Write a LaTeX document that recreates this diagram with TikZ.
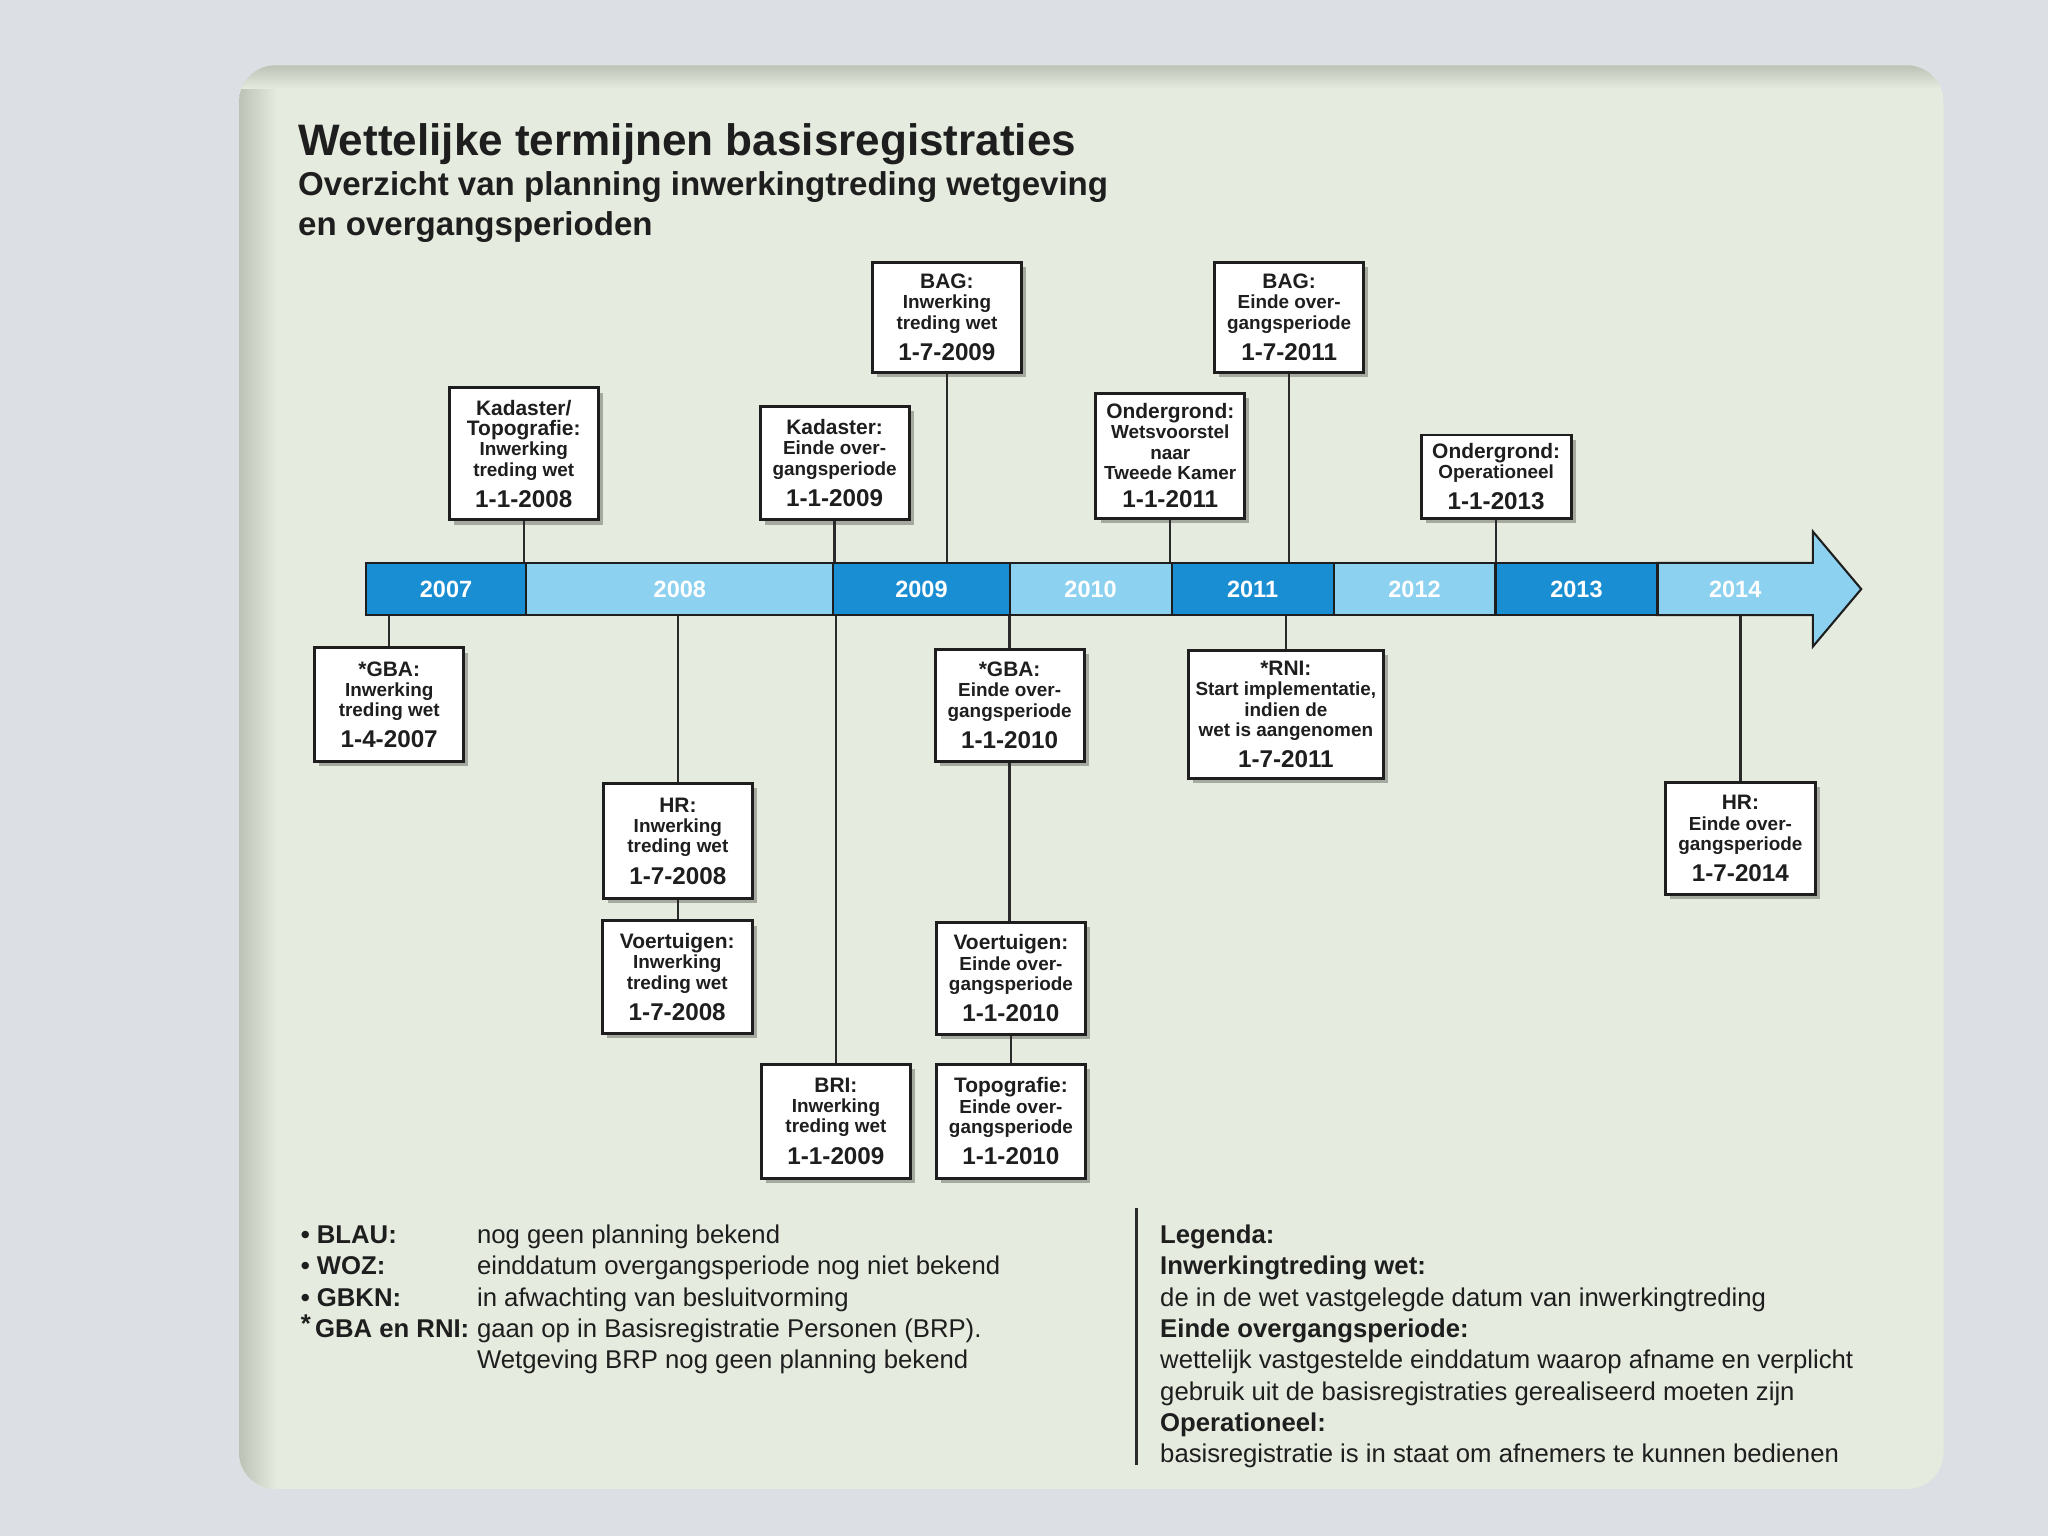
\documentclass[tikz,border=0pt]{standalone}
\usepackage{fontspec}
\setmainfont{Liberation Sans}
\usetikzlibrary{shadows}
\definecolor{bgc}{HTML}{DCDFE3}
\definecolor{panel}{HTML}{E5EBDE}
\definecolor{panelshade}{HTML}{BCC2B5}
\definecolor{dblue}{HTML}{1A8ED3}
\definecolor{lblue}{HTML}{8DD1F0}
\definecolor{ink}{HTML}{1E1E1E}
\definecolor{lineclr}{HTML}{2A2A2A}
\newcommand{\hdr}[1]{{\fontsize{11.4}{11}\selectfont #1}}
\newcommand{\dte}[1]{{\fontsize{13.2}{11}\selectfont #1}}
\newcommand{\tlbox}[6]{\node[tbox, minimum width={(#4-#2)*0.25mm}, minimum height={(#5-#3)*0.25mm}] (#1) at ({(#2+#4)/2},{(#3+#5)/2}) {#6};}
\tikzset{
 tbox/.style={draw=ink, line width=0.55mm, fill=white, align=center, inner sep=0pt, text=ink,
   font=\fontsize{10.3}{11}\selectfont\bfseries,
   drop shadow={shadow xshift=0.9mm, shadow yshift=-0.9mm, opacity=0.28, fill=black}},
 seg/.style={draw=ink, line width=0.4mm, minimum height=10mm, inner sep=0pt, text=white,
   font=\fontsize{12.8}{14}\selectfont\bfseries},
 conn/.style={draw=lineclr, line width=0.45mm},
 note/.style={anchor=base west, inner sep=0pt, text=ink, font=\fontsize{14}{16}\selectfont},
 noteb/.style={note, font=\fontsize{14}{16}\selectfont\bfseries},
}
\begin{document}
\begin{tikzpicture}[x=0.25mm,y=-0.25mm]
\useasboundingbox (0,0) rectangle (1568,1176);
\fill[bgc] (0,0) rectangle (1568,1176);
% panel
\begin{scope}
\clip[rounded corners=7mm] (183,50) rectangle (1488,1140);
\fill[panel] (183,50) rectangle (1488,1140);
\shade[left color=panelshade, right color=panel] (183,50) rectangle (212,1140);
\shade[top color=panelshade, bottom color=panel] (183,50) rectangle (1488,68);
\end{scope}
% title
\node[anchor=base west, inner sep=0pt, text=ink, font=\fontsize{24}{28}\selectfont\bfseries] (title) at (228,119) {Wettelijke termijnen basisregistraties};
\node[anchor=base west, inner sep=0pt, text=ink, font=\fontsize{18}{21}\selectfont\bfseries] (sub1) at (228,150) {Overzicht van planning inwerkingtreding wetgeving};
\node[anchor=base west, inner sep=0pt, text=ink, font=\fontsize{18}{21}\selectfont\bfseries] (sub2) at (228,180) {en overgangsperioden};
% timeline bar
\filldraw[fill=lblue, draw=ink, line width=0.4mm] (1269,431) -- (1388,431) -- (1388,407) -- (1425,451) -- (1388,495) -- (1388,471) -- (1269,471) -- cycle;
\node[seg, fill=dblue, minimum width={123*0.25mm}] (y2007) at (341.5,451) {2007};
\node[seg, fill=lblue, minimum width={235*0.25mm}] (y2008) at (520.5,451) {2008};
\node[seg, fill=dblue, minimum width={135*0.25mm}] (y2009) at (705.5,451) {2009};
\node[seg, fill=lblue, minimum width={124*0.25mm}] (y2010) at (835,451) {2010};
\node[seg, fill=dblue, minimum width={124*0.25mm}] (y2011) at (959,451) {2011};
\node[seg, fill=lblue, minimum width={124*0.25mm}] (y2012) at (1083,451) {2012};
\node[seg, fill=dblue, minimum width={124*0.25mm}] (y2013) at (1207,451) {2013};
\node[seg, draw=none, minimum width={119*0.25mm}] (y2014) at (1328.5,451) {2014};
% boxes above
\tlbox{kt}{344}{297}{458}{398}{\hdr{Kadaster/}\\\hdr{Topografie:}\\Inwerking\\treding wet\\[4.6pt]\dte{1-1-2008}}
\tlbox{kd}{582}{311}{696}{398}{\hdr{Kadaster:}\\Einde over-\\gangsperiode\\[4.6pt]\dte{1-1-2009}}
\tlbox{bag1}{668}{201}{782}{285}{\hdr{BAG:}\\Inwerking\\treding wet\\[4.6pt]\dte{1-7-2009}}
\tlbox{og1}{839}{301}{953}{397}{\hdr{Ondergrond:}\\Wetsvoorstel\\naar\\Tweede Kamer\\[4.6pt]\dte{1-1-2011}}
\tlbox{bag2}{930}{201}{1044}{285}{\hdr{BAG:}\\Einde over-\\gangsperiode\\[4.6pt]\dte{1-7-2011}}
\tlbox{og2}{1088}{333}{1203}{397}{\hdr{Ondergrond:}\\Operationeel\\[4.6pt]\dte{1-1-2013}}
% boxes below
\tlbox{gba1}{241}{496}{355}{583}{\hdr{*GBA:}\\Inwerking\\treding wet\\[4.6pt]\dte{1-4-2007}}
\tlbox{hr1}{462}{600}{576}{688}{\hdr{HR:}\\Inwerking\\treding wet\\[4.6pt]\dte{1-7-2008}}
\tlbox{vt1}{461}{705}{576}{791}{\hdr{Voertuigen:}\\Inwerking\\treding wet\\[4.6pt]\dte{1-7-2008}}
\tlbox{bri}{583}{815}{697}{902}{\hdr{BRI:}\\Inwerking\\treding wet\\[4.6pt]\dte{1-1-2009}}
\tlbox{gba2}{716}{497}{830}{583}{\hdr{*GBA:}\\Einde over-\\gangsperiode\\[4.6pt]\dte{1-1-2010}}
\tlbox{vt2}{717}{706}{831}{792}{\hdr{Voertuigen:}\\Einde over-\\gangsperiode\\[4.6pt]\dte{1-1-2010}}
\tlbox{topo}{717}{815}{831}{902}{\hdr{Topografie:}\\Einde over-\\gangsperiode\\[4.6pt]\dte{1-1-2010}}
\tlbox{rni}{910}{498}{1059}{596}{\hdr{*RNI:}\\Start implementatie,\\indien de\\wet is aangenomen\\[4.6pt]\dte{1-7-2011}}
\tlbox{hr2}{1275}{599}{1390}{685}{\hdr{HR:}\\Einde over-\\gangsperiode\\[4.6pt]\dte{1-7-2014}}
% connectors
\draw[conn] (kt.south) -- (kt.south |- y2008.north);
\draw[conn] (kd.south) -- (kd.south |- y2009.north);
\draw[conn] (bag1.south) -- (bag1.south |- y2009.north);
\draw[conn] (og1.south) -- (og1.south |- y2011.north);
\draw[conn] (bag2.south) -- (bag2.south |- y2011.north);
\draw[conn] (og2.south) -- (og2.south |- y2013.north);
\draw[conn] (gba1.north) -- (gba1.north |- y2007.south);
\draw[conn] (hr1.north) -- (hr1.north |- y2008.south);
\draw[conn] (hr1.south) -- (hr1.south |- vt1.north);
\draw[conn] (bri.north) -- (bri.north |- y2009.south);
\draw[conn] (gba2.north) -- (gba2.north |- y2010.south);
\draw[conn] (gba2.south) -- (gba2.south |- vt2.north);
\draw[conn] (vt2.south) -- (vt2.south |- topo.north);
\draw[conn] (rni.north) -- (rni.north |- y2011.south);
\draw[conn] (hr2.north) -- (hr2.north |- y2014.south);
% notes left
\node[noteb] (n1) at (230,952) {• BLAU:};
\node[noteb] (n2) at (230,976) {• WOZ:};
\node[noteb] (n3) at (230,1000) {• GBKN:};
\node[noteb] (n4) at (230,1024) {\raisebox{0.35ex}{*}\,GBA en RNI:};
\node[note] (d1) at (365,952) {nog geen planning bekend};
\node[note] (d2) at (365,976) {einddatum overgangsperiode nog niet bekend};
\node[note] (d3) at (365,1000) {in afwachting van besluitvorming};
\node[note] (d4) at (365,1024) {gaan op in Basisregistratie Personen (BRP).};
\node[note] (d5) at (365,1048) {Wetgeving BRP nog geen planning bekend};
% legend
\draw[conn] (870,925) -- (870,1122);
\node[noteb] (l1) at (888,952) {Legenda:};
\node[noteb] (l2) at (888,976) {Inwerkingtreding wet:};
\node[note] (l3) at (888,1000) {de in de wet vastgelegde datum van inwerkingtreding};
\node[noteb] (l4) at (888,1024) {Einde overgangsperiode:};
\node[note] (l5) at (888,1048) {wettelijk vastgestelde einddatum waarop afname en verplicht};
\node[note] (l6) at (888,1072) {gebruik uit de basisregistraties gerealiseerd moeten zijn};
\node[noteb] (l7) at (888,1096) {Operationeel:};
\node[note] (l8) at (888,1120) {basisregistratie is in staat om afnemers te kunnen bedienen};
\end{tikzpicture}
\end{document}
